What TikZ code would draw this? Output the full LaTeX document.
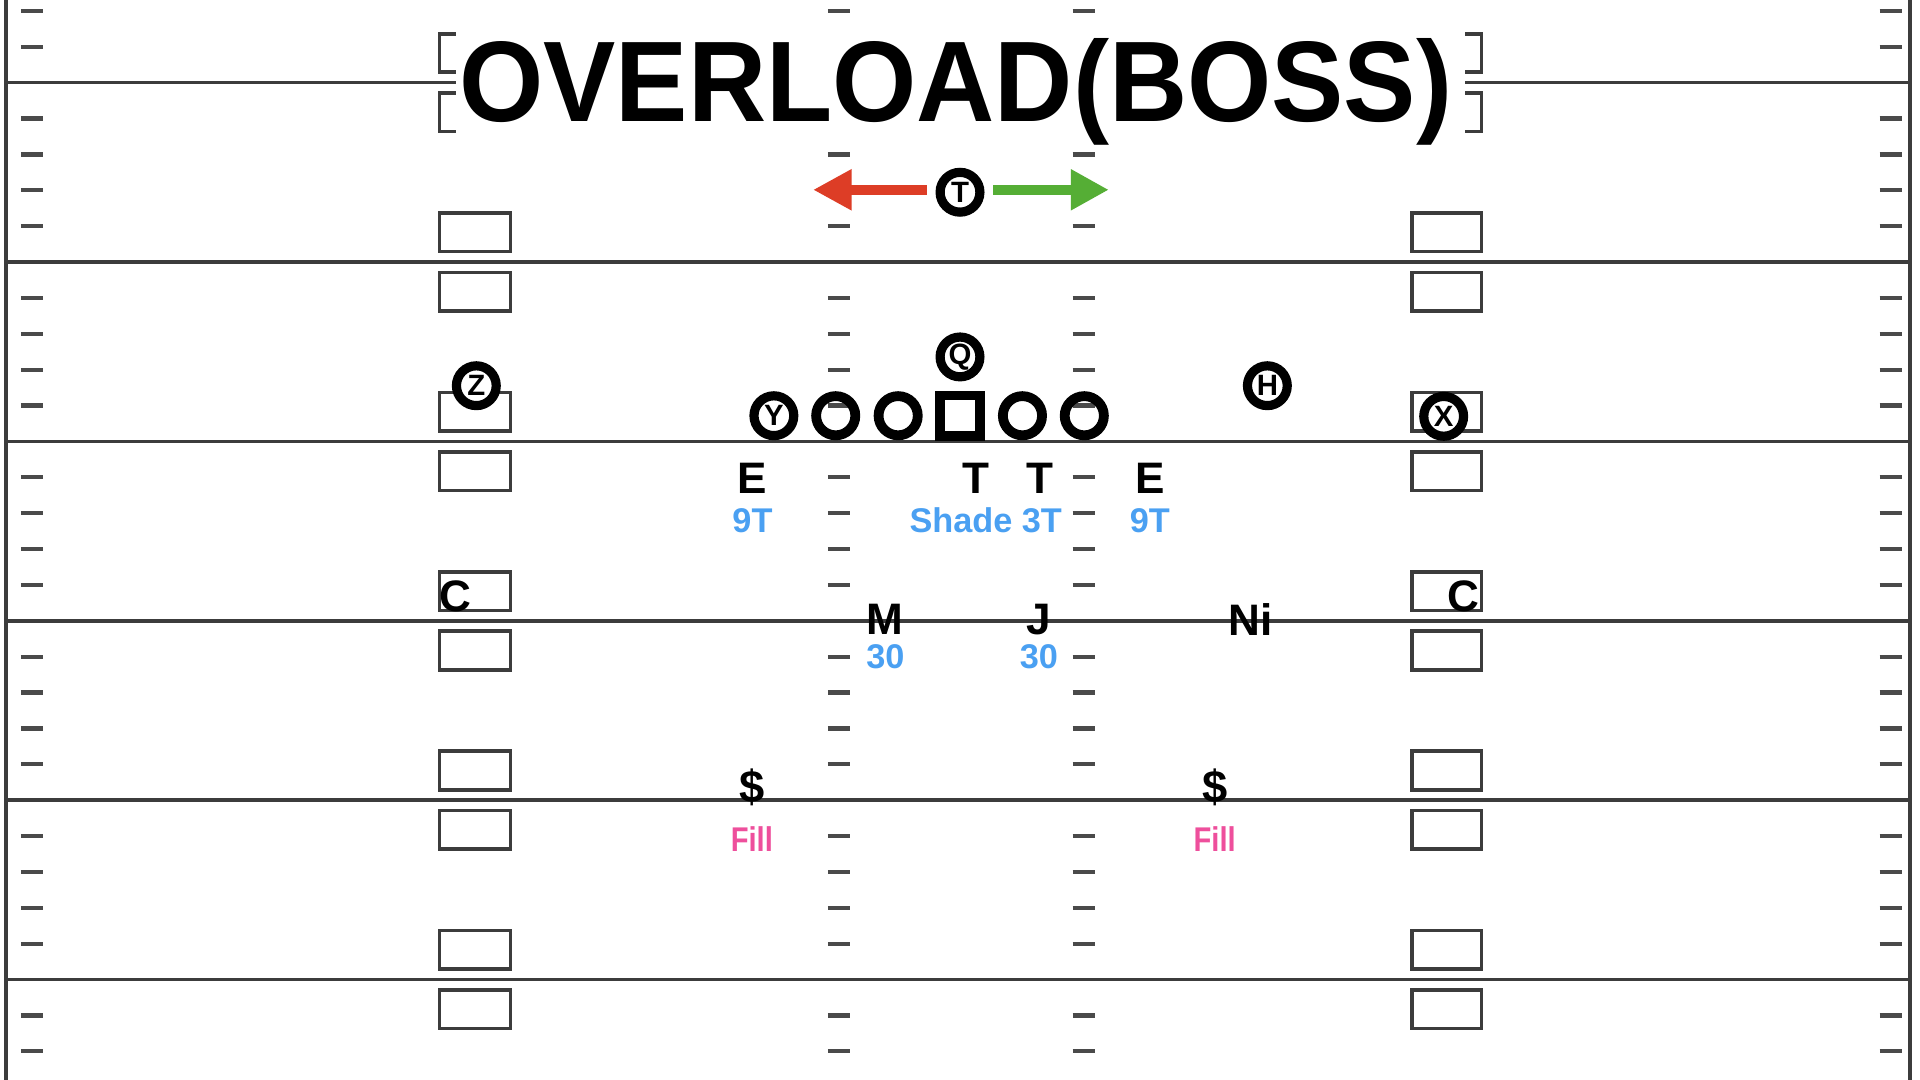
\documentclass[tikz,border=0pt]{standalone}
\usepackage{fontspec}
\usepackage{graphicx}
\setmainfont{Liberation Sans}
\usetikzlibrary{arrows.meta}
\definecolor{fieldline}{HTML}{3C3C3C}
\definecolor{tickgray}{HTML}{4A4A4A}
\definecolor{redarrow}{HTML}{DD3D26}
\definecolor{greenarrow}{HTML}{55AE35}
\definecolor{techblue}{HTML}{4AA0F2}
\definecolor{fillpink}{HTML}{EE4F9C}
\begin{document}
\begin{tikzpicture}[x=1pt,y=-1pt,
  yardline/.style={draw=fieldline,line width=3pt},
  tickmark/.style={draw=tickgray,line width=3.5pt},
  numbox/.style={draw=fieldline,line width=3pt},
  player/.style={circle,draw=black,fill=white,line width=7.5pt,minimum size=32.5pt,inner sep=0pt,font=\fontsize{24}{24}\selectfont\bfseries},
  lineman/.style={circle,draw=black,line width=8pt,minimum size=32pt,inner sep=0pt},
  snapbox/.style={rectangle,draw=black,line width=8pt,minimum size=33pt,inner sep=0pt},
  deflabel/.style={anchor=base,inner sep=0pt,font=\fontsize{36}{36}\selectfont\bfseries},
  techlabel/.style={anchor=base,inner sep=0pt,text=techblue,font=\fontsize{28}{28}\selectfont\bfseries},
  filllabel/.style={anchor=base,inner sep=0pt,text=fillpink,font=\fontsize{28}{28}\selectfont\bfseries},
  titlelabel/.style={anchor=base,inner sep=0pt,font=\fontsize{93.6}{94}\selectfont\bfseries},
  redarr/.style={draw=redarrow,line width=8pt,-{Triangle[length=31.5pt,width=31.5pt]},redarrow},
  greenarr/.style={draw=greenarrow,line width=8pt,-{Triangle[length=31pt,width=31.5pt]},greenarrow}
]
\useasboundingbox[fill=white] (0,0) rectangle (1568,882);

% sidelines
\draw[yardline] (5,0) -- (5,882);
\draw[yardline] (1560,0) -- (1560,882);

% yard lines and number boxes
\foreach \k in {0,...,5}{
  \pgfmathsetmacro\L{67.5+146.5*\k}
  \draw[yardline] (5,\L) -- (1560,\L);
  \draw[numbox] (359,{\L-40}) rectangle (417,{\L-8.5});
  \draw[numbox] (359,{\L+8.5}) rectangle (417,{\L+40});
  \draw[numbox] (1153,{\L-40}) rectangle (1210,{\L-8.5});
  \draw[numbox] (1153,{\L+8.5}) rectangle (1210,{\L+40});
}

% tick marks and hash marks
\foreach \m in {-2,...,27}{
  \pgfmathtruncatemacro\r{mod(\m+10,5)}
  \ifnum\r=0\relax\else
    \pgfmathsetmacro\yy{67.5+29.3*\m}
    \draw[tickmark] (17,\yy) -- (35,\yy);
    \draw[tickmark] (1535,\yy) -- (1553,\yy);
    \draw[tickmark] (676,\yy) -- (694,\yy);
    \draw[tickmark] (876,\yy) -- (894,\yy);
  \fi
}

% title
\fill[white] (372,15) rectangle (1196,110.5);
\node[titlelabel] (title) at (780.5,99) {\scalebox{0.945}[1]{OVERLOAD(BOSS)}};

% motion man and arrows
\node[player] (T) at (784,157) {T};
\coordinate (redtip) at (664,155);
\coordinate (greentip) at (905.5,155);
\draw[redarr] ([xshift=-7pt,yshift=2pt]T.west) -- (redtip);
\draw[greenarr] ([xshift=7pt,yshift=2pt]T.east) -- (greentip);

% offense
\node[player] (Q) at (784,291.5) {Q};
\node[player] (Z) at (389,315) {Z};
\node[player] (H) at (1035,315) {H};
\node[player] (X) at (1179,340) {X};
\node[player] (Y) at (632,339.5) {Y};
\node[lineman] (LT) at (682.5,339.5) {};
\node[lineman] (LG) at (733.5,339.5) {};
\node[snapbox] (OC) at (784,339.5) {};
\node[lineman] (RG) at (835,339.5) {};
\node[lineman] (RT) at (885.5,339.5) {};

% defense
\node[deflabel] (E1) at (614.5,403) {E};
\node[deflabel] (T1) at (797,403) {T};
\node[deflabel] (T2) at (849,403) {T};
\node[deflabel] (E2) at (939,403) {E};
\node[techlabel] (E1t) at (614.5,435) {9T};
\node[techlabel] (T1t) at (805,435) {Shade 3T};
\node[techlabel] (E2t) at (939,435) {9T};
\node[deflabel] (C1) at (372,499) {C};
\node[deflabel] (C2) at (1195,499) {C};
\node[deflabel] (M) at (723,518) {M};
\node[deflabel] (J) at (848,518) {J};
\node[deflabel] (Ni) at (1021,519) {Ni};
\node[techlabel] (Mt) at (723,546) {30};
\node[techlabel] (Jt) at (848.5,546) {30};
\node[inner sep=0pt,font=\fontsize{37}{37}\selectfont\bfseries] (S1) at (614,643) {\$};
\node[inner sep=0pt,font=\fontsize{37}{37}\selectfont\bfseries] (S2) at (992,643) {\$};
\node[filllabel] (S1f) at (614,695) {\scalebox{0.85}[1]{Fill}};
\node[filllabel] (S2f) at (992,695) {\scalebox{0.85}[1]{Fill}};
\end{tikzpicture}
\end{document}
